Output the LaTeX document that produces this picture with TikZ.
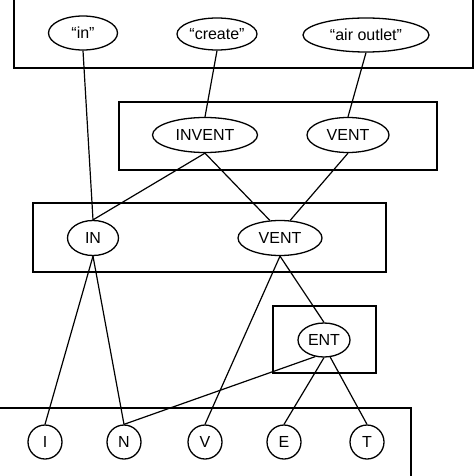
\documentclass[tikz,border=0pt]{standalone}
\usepackage{fontspec}
\setmainfont{Liberation Sans}
\usetikzlibrary{shapes.geometric}

\begin{document}
\begin{tikzpicture}[x=1pt,y=-1pt,
    morph/.style={draw,ellipse,line width=1.3pt,inner sep=0pt,minimum height=35pt,font=\fontsize{16}{19}\selectfont},
    letter/.style={draw,circle,line width=1.3pt,inner sep=0pt,minimum size=34pt,font=\fontsize{16}{19}\selectfont},
    layer/.style={draw,line width=1.8pt},
    link/.style={line width=1.2pt}]
  \useasboundingbox (0,0) rectangle (474,476);
  \clip (0,0) rectangle (474,476);
  % Layers
  \draw[layer] (14,-5) rectangle (473,68);
  \draw[layer] (119,102) rectangle (437,170);
  \draw[layer] (33,203) rectangle (386,272);
  \draw[layer] (273,306) rectangle (376,373);
  \draw[layer] (-5,408) rectangle (411,481);
  % Meanings
  \node[morph,minimum width=69pt,minimum height=34pt] (qin) at (83,33) {“in”};
  \node[morph,minimum width=80pt,minimum height=32pt] (qcreate) at (217,34) {“create”};
  \node[morph,minimum width=126pt,minimum height=34pt] (qair) at (366,35) {“air outlet”};
  % Morphemes
  \node[morph,minimum width=105pt] (invent) at (205,135) {INVENT};
  \node[morph,minimum width=82pt] (ventA) at (348,135) {VENT};
  \node[morph,minimum width=51pt] (inn) at (93,238) {IN};
  \node[morph,minimum width=84pt] (ventB) at (280,238) {VENT};
  \node[morph,minimum width=52pt,minimum height=34pt] (ent) at (324,340) {ENT};
  % Letters
  \foreach \l/\x in {I/45,N/124,V/205,E/284,T/367}
    \node[letter] (l\l) at (\x,442) {\l};
  % Links
  \draw[link] (qin.south) -- (inn.north);
  \draw[link] (qcreate.south) -- (invent.north);
  \draw[link] (qair.south) -- (ventA.north);
  \draw[link] (invent.south) -- (inn.north);
  \draw[link] (invent.south) -- (ventB.120);
  \draw[link] (ventA.south) -- (ventB.60);
  \draw[link] (inn.south) -- (lI.north);
  \draw[link] (inn.south) -- (lN.north);
  \draw[link] (ventB.south) -- (lV.north);
  \draw[link] (ventB.south) -- (ent.north);
  \draw[link] (ent.242) -- (lN.north);
  \draw[link] (ent.south) -- (lE.north);
  \draw[link] (ent.290) -- (lT.north);
\end{tikzpicture}
\end{document}
